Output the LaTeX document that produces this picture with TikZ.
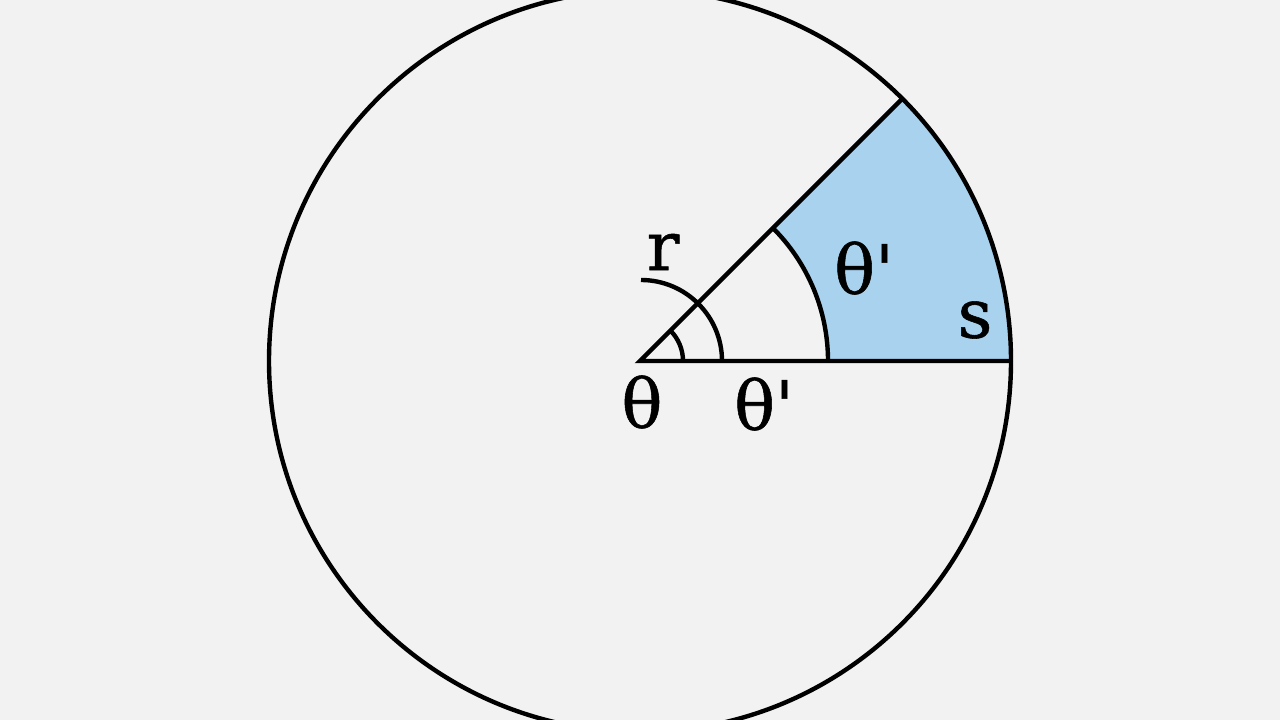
\documentclass[tikz,border=0pt]{standalone}
\usepackage{fontspec}
\setmainfont{DejaVu Serif}[Ligatures=TeXOff,FakeBold=0.8]
\usetikzlibrary{calc}
\definecolor{bg}{HTML}{F2F2F2}
\definecolor{sector}{HTML}{A9D2EE}
\begin{document}
\begin{tikzpicture}[x=0.75pt,y=0.75pt,
  edge/.style={line width=3.3pt,black},
  lbl/.style={font=\fontsize{51}{55}\selectfont,inner sep=0pt}]
\fill[bg] (0,0) rectangle (1280,720);
\useasboundingbox (0,0) rectangle (1280,720);
\coordinate (O) at (640,359);
\begin{scope}
\clip (0,0) rectangle (1280,720);
\fill[sector] ($(O)+(188,0)$) -- ($(O)+(371,0)$) arc[start angle=0,end angle=45,radius=371] -- ($(O)+(45:188*0.75pt)$) arc[start angle=45,end angle=0,radius=188] -- cycle;
\draw[edge] (O) circle[radius=371];
\end{scope}
\draw[edge,line join=miter] ($(O)+(45:371*0.75pt)$) coordinate (P) -- (O) -- ($(O)+(371,0)$) coordinate (Q);
\draw[edge] ($(O)+(188,0)$) arc[start angle=0,end angle=45,radius=188];
\draw[edge] ($(O)+(43,0)$) arc[start angle=0,end angle=45,radius=43];
\draw[edge] ($(O)+(82,0)$) arc[start angle=0,end angle=90,radius=81];
\node[lbl] (t1) at (642,318) {θ};
\node[lbl] (t2) at (764,316) {θ'};
\node[lbl] (t3) at (864,452) {θ'};
\node[lbl] (s) at (975,400) {s};
\node[lbl] (r) at (663,468) {r};
\end{tikzpicture}
\end{document}
